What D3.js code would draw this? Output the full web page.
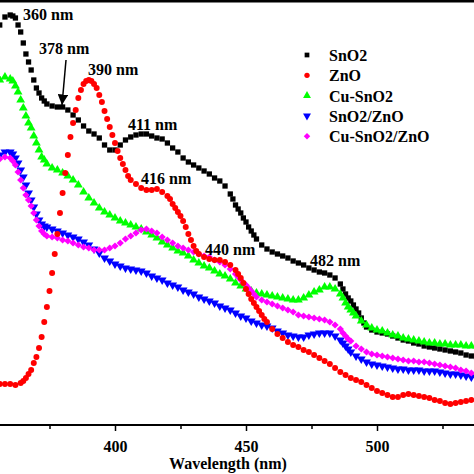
<!DOCTYPE html>
<html>
<head>
<meta charset="utf-8">
<script src="https://cdn.jsdelivr.net/npm/d3@7"></script>
<style>
    body { margin: 0; background: #fff; }
    svg text { font-family: "Liberation Serif", "Times New Roman", serif; font-weight: bold; }
</style>
</head>
<body>
<svg id="pl-svg" width="474" height="474"></svg>
<script>
// Wavelength grid (nm) shared by four of the spectra
const wl = [356,358,360,362,364,366,368,370,372,374,376,378,380,382,384,386,388,390,392,394,
    396,398,400,402,404,406,408,410,412,414,416,418,420,422,424,426,428,430,432,434,
    436,438,440,442,444,446,448,450,452,454,456,458,460,462,464,466,468,470,472,474,
    476,478,480,482,484,486,488,490,492,494,496,498,500,502,504,506,508,510,512,514,
    516,518,520,522,524,526,528,530,532,534,536,538];

// PL intensity (a.u.)
const sno2 = [400,408,410,407,393,371,355,337,327,321,
    319,318,318,315,310,305,299,294,291,287,
    280,275,275,280,285,288,290,291,291,289,
    287,286,282,277,273,267,263,260,257,254,
    251,247,244,239,231,220,212,203,194,186,
    180,176,173,171,169,167,164,162,160,157,
    155,153,152,150,147,141,131,124,116,107,
    98,95,93,92,91,89,87,85,84,82,
    81,79,78,77,76,75,74,73,72,70,
    69,68];

const cu_sno2 = [345,348,346,339,325,309,297,282,268,261,
    257,255,252,249,245,240,233,227,222,217,
    213,210,207,204,202,200,198,196,193,190,
    187,183,180,177,174,172,169,165,162,159,
    157,154,151,149,146,142,139,136,134,132,
    131,130,129,128,127,126,125,125,127,130,
    133,135,138,138,136,131,122,115,109,104,
    100,97,95,94,92,90,89,87,86,85,
    84,83,82,82,81,81,80,80,80,79,
    79,79];

const sno2_zno = [270,273,273,267,255,240,225,211,201,198,
    196,194,192,190,188,186,183,180,176,172,
    167,164,161,159,157,156,155,154,152,149,
    147,145,142,140,138,135,133,131,128,126,
    124,122,119,117,115,112,109,107,104,102,
    100,99,97,94,92,90,89,88,88,90,
    91,92,92,92,89,85,79,73,69,66,
    63,61,60,59,58,57,56,56,55,55,
    55,54,54,54,53,52,51,51,50,49,
    48,48];

const cu_sno2_zno = [266,268,267,260,245,230,219,205,194,189,
    188,187,185,184,182,180,178,177,175,175,
    175,177,179,182,186,189,192,195,196,194,
    192,188,185,182,179,177,175,173,171,169,
    168,165,163,160,156,151,145,140,134,128,
    125,123,121,119,117,115,113,110,109,108,
    107,106,105,103,100,96,89,84,79,76,
    73,71,70,69,68,67,66,65,64,64,
    63,63,62,61,60,59,58,57,55,54,
    52,51];

// extra 1 nm points on the steep stretches: [wavelength, intensity]
const sno2_fine = [[361,409],[363,400],[365,382],[367,363],[369,345],[371,332],[373,324],
    [445,226],[447,216],[449,207],[451,198],[453,190],
    [487,136],[489,127],[491,120],[493,112],[495,102]];
const cu_sno2_fine = [[361,344],[363,333],[365,317],[367,302],[369,289],[371,275],[373,265],
    [487,127],[489,118],[491,112]];
const sno2_zno_fine = [[361,271],[363,262],[365,248],[367,232],[369,218],[371,205],[373,199],
    [487,82],[489,76]];
const cu_sno2_zno_fine = [[361,264],[363,253],[365,237],[367,225],[369,212],[371,199],[373,191],
    [447,148],[449,142],[451,137],[453,131],[487,92],[489,86]];

// ZnO was sampled more finely where it rises and falls: [wavelength, intensity]
const zno = [[356,41],[358,41],[360,41],[362,40],[364,42],[365,44],[366,47],[367,51],[368,55],[369,62],
    [370,68],[371,77],[372,88],[373,103],[374,118],[375,134],[376,152],[377,171],[378,191],[379,212],
    [380,232],[381,252],[382,270],[383,288],[384,302],[385,315],[386,327],[387,335],[388,341],[389,344],
    [390,345],[391,344],[392,341],[393,337],[394,330],[395,323],[396,314],[397,306],[398,298],[399,290],
    [400,282],[401,274],[402,267],[403,261],[404,255],[405,249],[406,245],[408,241],[410,237],[412,235],
    [414,235],[416,236],[418,233],[420,229],[421,226],[422,221],[423,217],[424,213],[425,209],[426,204],
    [427,198],[428,191],[429,185],[430,179],[431,174],[432,171],[434,168],[436,166],[438,165],[440,165],
    [442,163],[444,160],[446,155],[447,151],[448,147],[449,142],[450,136],[451,131],[452,126],[453,122],
    [454,118],[455,114],[456,110],[457,106],[458,103],[460,96],[462,91],[464,87],[466,83],[468,80],
    [470,78],[472,75],[474,73],[476,70],[478,67],[480,64],[482,61],[484,57],[486,53],[488,50],
    [490,47],[492,45],[494,43],[496,40],[498,37],[500,34],[502,32],[504,30],[506,28],[508,28],
    [510,30],[512,31],[514,30],[516,29],[518,28],[520,27],[522,25],[524,24],[526,22],[528,21],
    [530,22],[532,23],[534,24],[536,25],[538,25]];

const series_names = ['SnO2', 'ZnO', 'Cu-SnO2', 'SnO2/ZnO', 'Cu-SnO2/ZnO'];
const major_ticks = [400, 450, 500];
const minor_ticks = [375, 425, 475, 525];
const peak_labels = ['360 nm', '378 nm', '390 nm', '411 nm', '416 nm', '440 nm', '482 nm'];

const svg = d3.select('#pl-svg');

let x = d3.scaleLinear().domain([400, 500]).range([115, 377]);
let y = d3.scaleLinear().domain([0, 423]).range([425, 2]);

// styles for each series, in legend order
const styles = [
    {color: '#000000', type: d3.symbolSquare, size: 28, rot: 0},
    {color: '#ff0000', type: d3.symbolCircle, size: 28, rot: 0},
    {color: '#00ff00', type: d3.symbolTriangle, size: 34, rot: 0},
    {color: '#0000ff', type: d3.symbolTriangle, size: 34, rot: 180},
    {color: '#ff00ff', type: d3.symbolSquare, size: 26, rot: 45}
];

function merge(vals, fine) {
    let pts = wl.map((w, i) => [w, vals[i]]).concat(fine);
    return pts.sort((a, b) => a[0] - b[0]);
}

let all_series = [
    merge(sno2, sno2_fine),
    zno,
    merge(cu_sno2, cu_sno2_fine),
    merge(sno2_zno, sno2_zno_fine),
    merge(cu_sno2_zno, cu_sno2_zno_fine)
];

// frame (only top and bottom edges fall inside the window)
svg.append('line')
    .attr('x1', -5).attr('x2', 480)
    .attr('y1', 1.3).attr('y2', 1.3)
    .attr('stroke', '#000').attr('stroke-width', 2.6);

// draw order: red last so it sits on top
let draw_order = [0, 2, 3, 4, 1];
for (let k of draw_order) {
    let st = styles[k];
    let sym = d3.symbol().type(st.type).size(st.size);
    svg.append('g')
        .selectAll('path')
        .data(all_series[k])
        .join('path')
        .attr('d', sym)
        .attr('fill', st.color)
        .attr('transform', d => 'translate(' + x(d[0]) + ',' + y(d[1]) + ') rotate(' + st.rot + ')');
}

// x axis
let axis_g = svg.append('g').attr('transform', 'translate(0,425)');
axis_g.call(d3.axisBottom(x).tickValues(major_ticks).tickSize(6).tickPadding(10).tickFormat(d3.format('d')));
axis_g.append('g').call(d3.axisBottom(x).tickValues(minor_ticks).tickSize(4).tickFormat(''));
axis_g.selectAll('.domain').remove();
axis_g.selectAll('line').attr('stroke', '#000').attr('stroke-width', 1.5);
axis_g.selectAll('text')
    .attr('fill', '#000')
    .style('font-size', '16px');
svg.append('line')
    .attr('x1', -5).attr('x2', 480)
    .attr('y1', 425).attr('y2', 425)
    .attr('stroke', '#000').attr('stroke-width', 2);

svg.append('text')
    .attr('x', 228).attr('y', 469)
    .attr('text-anchor', 'middle')
    .style('font-size', '16px')
    .text('Wavelength (nm)');

// peak annotations
const label_pos = [[23, 20], [39, 54], [88, 75], [128, 130], [141, 184], [205, 255], [310, 266]];
svg.append('g')
    .selectAll('text')
    .data(peak_labels)
    .join('text')
    .attr('x', (d, i) => label_pos[i][0])
    .attr('y', (d, i) => label_pos[i][1])
    .style('font-size', '16px')
    .text(d => d);

// arrow pointing at the 378 nm shoulder
svg.append('defs').append('marker')
    .attr('id', 'arrow-head')
    .attr('viewBox', '0 0 10 10')
    .attr('refX', 10).attr('refY', 5)
    .attr('markerWidth', 7).attr('markerHeight', 7)
    .attr('orient', 'auto')
    .append('path')
    .attr('d', 'M0,0 L10,5 L0,10 z')
    .attr('fill', '#000');
svg.append('line')
    .attr('x1', 66).attr('y1', 60)
    .attr('x2', 62).attr('y2', 105)
    .attr('stroke', '#000').attr('stroke-width', 1.5)
    .attr('marker-end', 'url(#arrow-head)');

// legend
let legend = svg.append('g').attr('transform', 'translate(307,55)');
series_names.forEach((name, i) => {
    let st = styles[i];
    let row = legend.append('g').attr('transform', 'translate(0,' + (i * 20.3) + ')');
    row.append('path')
        .attr('d', d3.symbol().type(st.type).size(st.size * 0.8)())
        .attr('fill', st.color)
        .attr('transform', 'rotate(' + st.rot + ')');
    row.append('text')
        .attr('x', 22).attr('y', 6)
        .style('font-size', '16px')
        .text(name);
});
</script>
</body>
</html>
